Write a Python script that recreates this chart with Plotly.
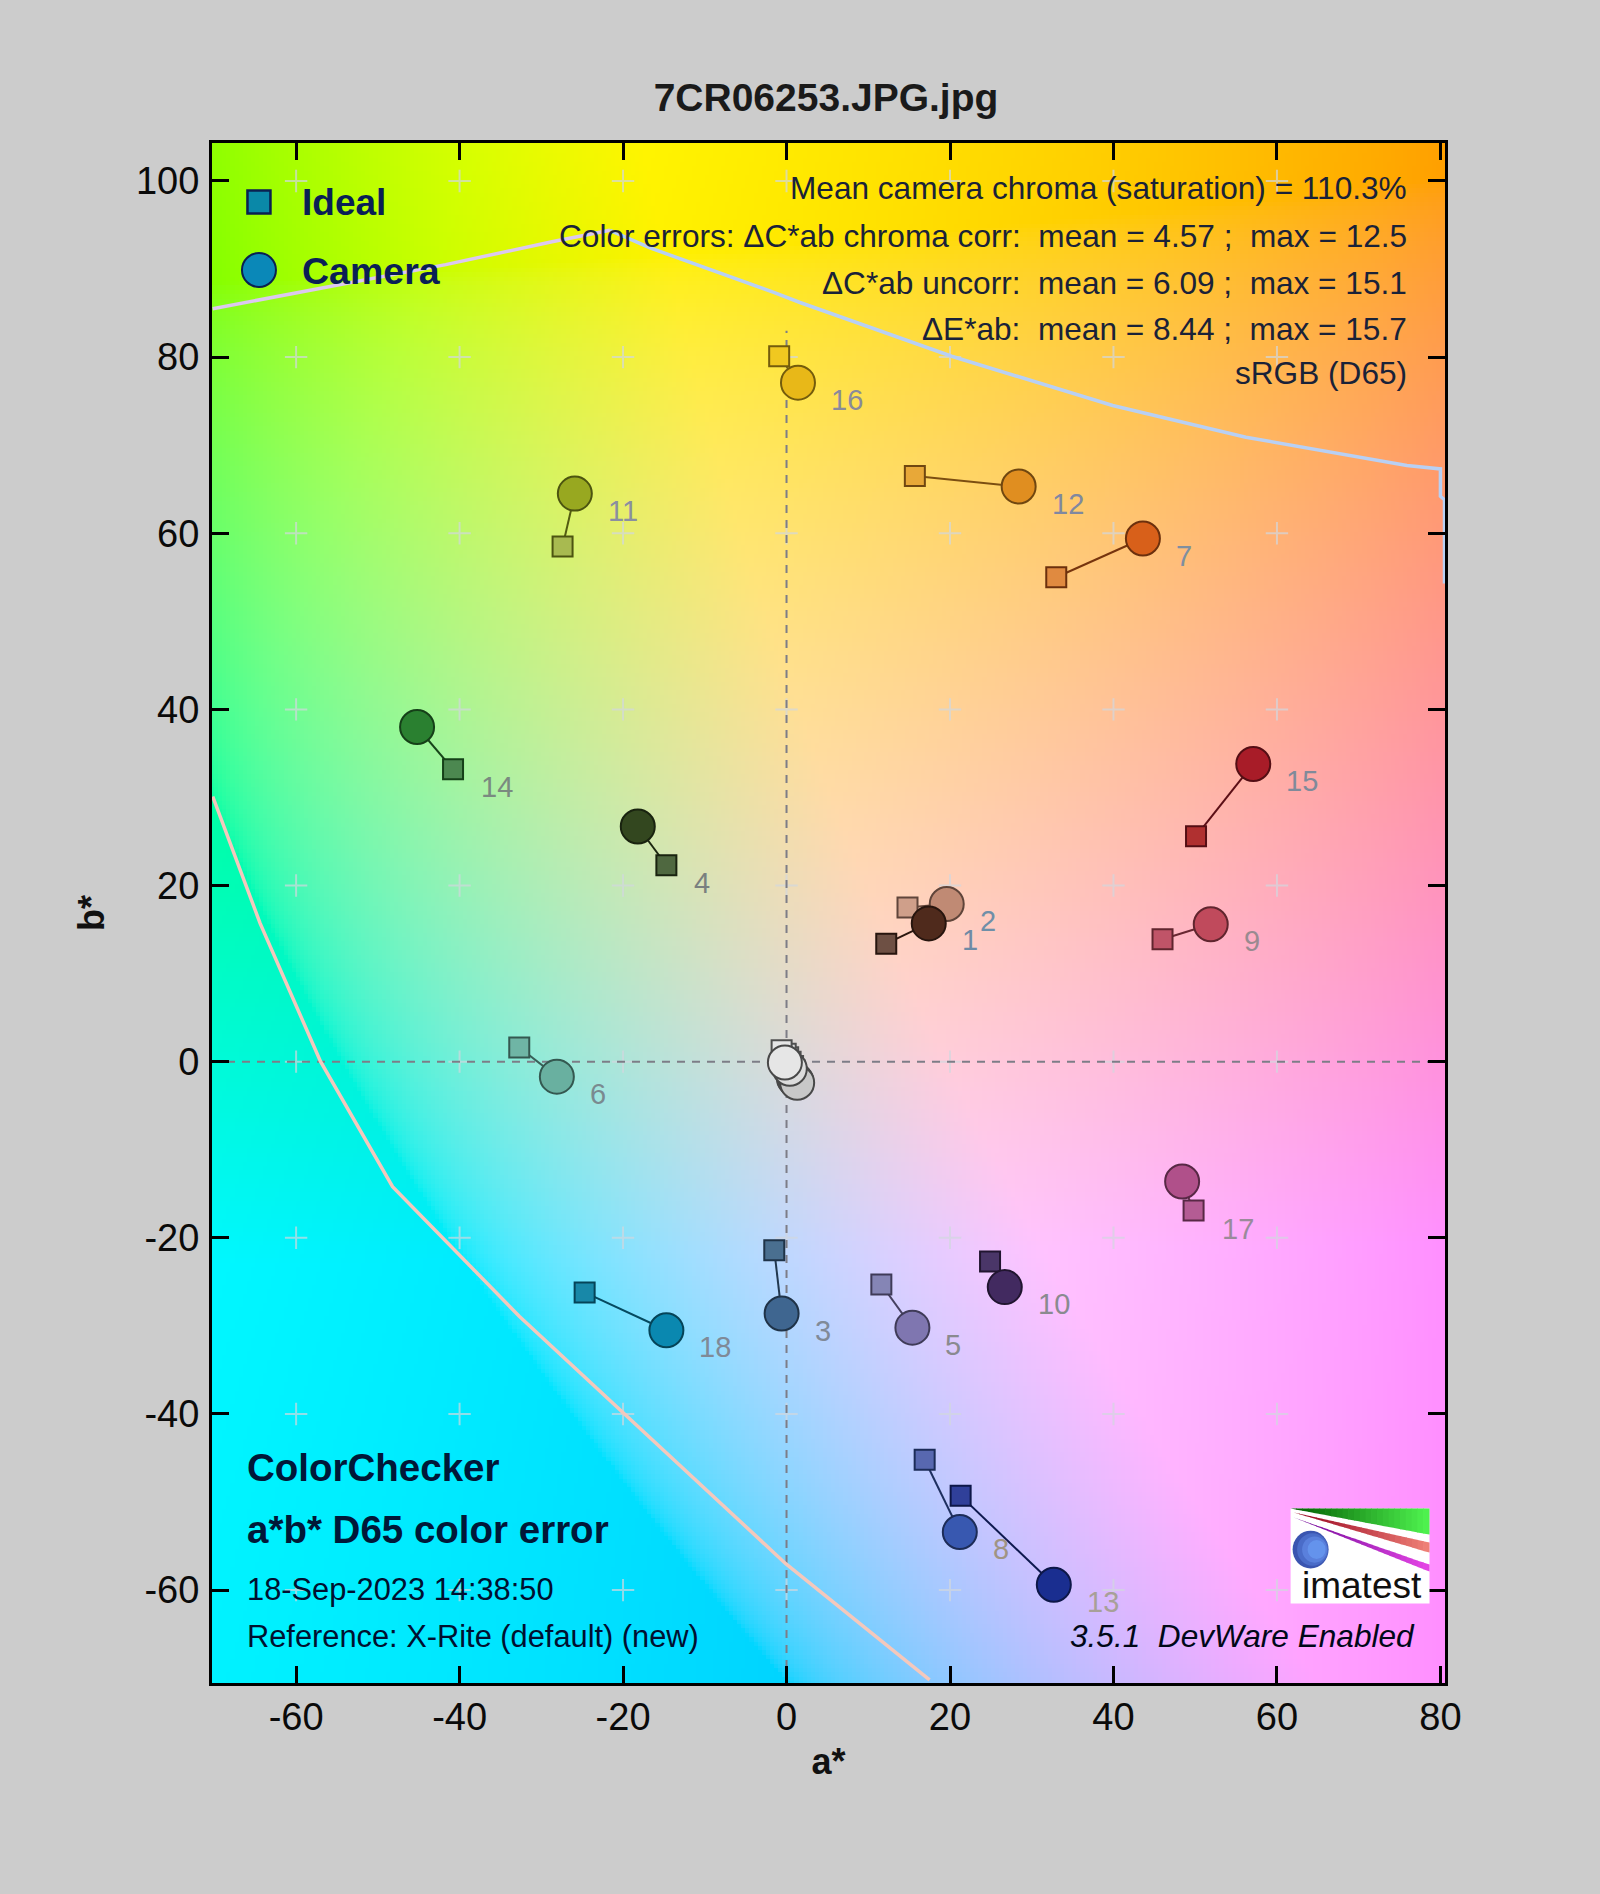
import numpy as np
import plotly.graph_objects as go

# ---------- data ----------
patch_ids = [str(i) for i in range(1, 19)]
ideal_a = [12.2, 14.8, -1.5, -14.7, 11.6, -32.7, 33.0, 16.9, 46.0, 24.9, -27.4, 15.7, 21.3, -40.8, 50.1, -0.9, 49.8, -24.7]
ideal_b = [13.4, 17.5, -21.4, 22.3, -25.3, 1.6, 55.0, -45.2, 13.9, -22.7, 58.5, 66.5, -49.3, 33.2, 25.6, 80.1, -16.9, -26.2]
camera_a = [17.4, 19.6, -0.6, -18.2, 15.4, -28.1, 43.6, 21.2, 51.9, 26.7, -25.9, 28.4, 32.7, -45.2, 57.1, 1.4, 48.4, -14.7]
camera_b = [15.7, 17.9, -28.6, 26.7, -30.2, -1.7, 59.4, -53.4, 15.6, -25.6, 64.5, 65.3, -59.4, 38.0, 33.8, 77.1, -13.6, -30.5]
camera_colors = ["#4f2a1c", "#c08a74", "#3f6690", "#33471f", "#7f76b0", "#69b0a0", "#d8601a", "#3858b0", "#c04a5c",
                 "#422a60", "#98a820", "#e08e20", "#1a2e90", "#2a8030", "#a81c28", "#e8b818", "#b0508a", "#0a88b0"]
ideal_colors = ["#6e5044", "#cf9f8a", "#4a6f90", "#4f6840", "#8585b5", "#6fb5a5", "#e08a40", "#5868b0", "#c05468",
                "#4a3668", "#a8ba50", "#e8a838", "#30409a", "#4c8850", "#b03030", "#f0c820", "#b45c94", "#1888a8"]
label_colors = ["#6f8aa5", "#6f8fa8", "#808a98", "#7a8080", "#8a8a90", "#7a8a90", "#7f8fa0", "#a09484", "#9a8a90",
                "#8a8a90", "#8a8fa0", "#8088a0", "#a8a098", "#7a8a80", "#808a9a", "#8a8a9a", "#9a8a9a", "#7f8a98"]

neutral_ideal_a = [1.0, 0.8, 0.5, 0.2, -0.1, -0.6]
neutral_ideal_b = [-1.0, -0.5, 0.0, 0.5, 0.9, 1.3]
neutral_camera_a = [0.9, 1.0, 1.2, 1.3, 0.4, -0.2]
neutral_camera_b = [-1.9, -2.0, -2.2, -2.4, -0.8, -0.1]
neutral_colors = ["#303030", "#606060", "#909090", "#c8c8c8", "#dcdcdc", "#e6e6e6"]

gamut_left_a = [-70.2, -41.7, -28.7, -21.6]
gamut_left_b = [85.5, 90.5, 93.1, 94.4]
gamut_right_a = [-21.6, -16.7, -1.4, 1.65, 20.2, 39.9, 56.2, 75.9, 80.0, 80.0, 80.5, 80.5]
gamut_right_b = [94.4, 92.4, 87.3, 86.2, 80.1, 74.5, 70.9, 67.7, 67.3, 64.2, 63.8, 54.3]
gamut_low_a = [-70.2, -64.4, -57.0, -48.2, -32.7, -20.1, -0.1, 17.5]
gamut_low_b = [30.1, 15.7, 0.0, -14.2, -28.9, -39.8, -57.0, -70.2]

x_ticks = [-60, -40, -20, 0, 20, 40, 60, 80]
y_ticks = [-60, -40, -20, 0, 20, 40, 60, 80, 100]
cross_a = [-60, -40, -20, 0, 20, 40, 60]

title_text = "7CR06253.JPG.jpg"
stat_lines = ["Mean camera chroma (saturation) = 110.3%",
              "Color errors: ΔC*ab chroma corr:  mean = 4.57 ;  max = 12.5",
              "ΔC*ab uncorr:  mean = 6.09 ;  max = 15.1",
              "ΔE*ab:  mean = 8.44 ;  max = 15.7",
              "sRGB (D65)"]

# ---------- frame geometry ----------
W, H = 1600, 1894
L, R, T, B = 211.5, 1445.5, 143, 1683.5
x_range = [-70.29, 80.56]
y_range = [-70.55, 104.31]
FONT = "Liberation Sans"


def px(x):
    return (x - L) / (R - L)


def py(y):
    return (B - y) / (B - T)


def xd(x):
    return x_range[0] + px(x) * (x_range[1] - x_range[0])


def yd(y):
    return y_range[0] + py(y) * (y_range[1] - y_range[0])


def darker(c, f=0.5):
    r, g, b = int(c[1:3], 16), int(c[3:5], 16), int(c[5:7], 16)
    return f"rgb({int(r*f)},{int(g*f)},{int(b*f)})"


# ---------- Lab colour-plane background ----------
def lab_plane(a_vals, b_vals):
    aa, bb = np.meshgrid(a_vals, b_vals)
    lightness = 87 + 0.07 * bb
    fy = (lightness + 16) / 116
    fx, fz = fy + aa / 500, fy - bb / 200
    finv = lambda t: np.where(t > 6 / 29, t ** 3, 3 * (6 / 29) ** 2 * (t - 4 / 29))
    X, Y, Z = 0.95047 * finv(fx), finv(fy), 1.08883 * finv(fz)
    r = 3.2406 * X - 1.5372 * Y - 0.4986 * Z
    g = -0.9689 * X + 1.8758 * Y + 0.0415 * Z
    bl = 0.0557 * X - 0.2040 * Y + 1.0570 * Z
    rgb = np.clip(np.stack([r, g, bl], axis=-1), 0, 1)
    rgb = np.where(rgb <= 0.0031308, 12.92 * rgb, 1.055 * rgb ** (1 / 2.4) - 0.055)
    return (rgb * 255).round().astype(int)


step = 0.5
a_grid = np.arange(x_range[0], x_range[1] + step, step)
b_grid = np.arange(y_range[0], y_range[1] + step, step)
plane = lab_plane(a_grid, b_grid)

fig = go.Figure()
fig.add_trace(go.Image(z=plane.tolist(), x0=float(a_grid[0]), dx=step, y0=float(b_grid[0]), dy=step,
                       hoverinfo="skip", colormodel="rgb"))

# grid crosses
ca, cb = [], []
for b_v in y_ticks:
    for a_v in cross_a:
        ca.append(a_v)
        cb.append(b_v)
fig.add_trace(go.Scatter(x=ca, y=cb, mode="markers", hoverinfo="skip",
                         marker=dict(symbol="cross-thin", size=16, line=dict(width=2, color="rgba(210,215,222,0.7)"))))

# dashed axes
DASH = "rgb(125,125,135)"
fig.add_trace(go.Scatter(x=[0, 0], y=[y_range[0], 83], mode="lines",
                         line=dict(color=DASH, width=2, dash="8px 7px"), hoverinfo="skip"))
fig.add_trace(go.Scatter(x=[x_range[0], x_range[1]], y=[0, 0], mode="lines",
                         line=dict(color=DASH, width=2, dash="8px 7px"), hoverinfo="skip"))

# gamut outline
fig.add_trace(go.Scatter(x=gamut_left_a, y=gamut_left_b, mode="lines", line=dict(color="#dcc8f0", width=3.5)))
fig.add_trace(go.Scatter(x=gamut_right_a, y=gamut_right_b, mode="lines", line=dict(color="#b8d0f4", width=3.5)))
fig.add_trace(go.Scatter(x=gamut_low_a, y=gamut_low_b, mode="lines", line=dict(color="#f4c8bc", width=3.5)))

# connectors
for i in range(18):
    fig.add_trace(go.Scatter(x=[ideal_a[i], camera_a[i]], y=[ideal_b[i], camera_b[i]], mode="lines",
                             line=dict(color=darker(camera_colors[i], 0.55), width=2), hoverinfo="skip"))

# neutrals
fig.add_trace(go.Scatter(x=neutral_ideal_a, y=neutral_ideal_b, mode="markers",
                         marker=dict(symbol="square", size=20, color=neutral_colors,
                                     line=dict(width=2, color="#505050"))))
fig.add_trace(go.Scatter(x=neutral_camera_a, y=neutral_camera_b, mode="markers",
                         marker=dict(symbol="circle", size=34, color=neutral_colors,
                                     line=dict(width=2, color="#484848"))))

# ideal squares and camera circles (patch 1 ends up on top)
fig.add_trace(go.Scatter(x=ideal_a[::-1], y=ideal_b[::-1], mode="markers", name="Ideal",
                         marker=dict(symbol="square", size=20, color=ideal_colors[::-1],
                                     line=dict(width=2, color=[darker(c) for c in camera_colors[::-1]]))))
fig.add_trace(go.Scatter(x=camera_a[::-1], y=camera_b[::-1], mode="markers", name="Camera",
                         marker=dict(symbol="circle", size=34, color=camera_colors[::-1],
                                     line=dict(width=2, color=[darker(c) for c in camera_colors[::-1]]))))

# legend marks
fig.add_trace(go.Scatter(x=[xd(258.5)], y=[yd(202)], mode="markers",
                         marker=dict(symbol="square", size=23, color="#0a88a8", line=dict(width=2.5, color="#0a2050"))))
fig.add_trace(go.Scatter(x=[xd(258.5)], y=[yd(270)], mode="markers",
                         marker=dict(symbol="circle", size=34, color="#0a88b8", line=dict(width=2, color="#0a2050"))))


def note(text, x, y, size, color="#101828", anchor="left", bold=False, italic=False):
    if bold:
        text = f"<b>{text}</b>"
    if italic:
        text = f"<i>{text}</i>"
    fig.add_annotation(text=text, x=px(x), y=py(y), xref="paper", yref="paper", xanchor=anchor, yanchor="middle",
                       showarrow=False, align=anchor, font=dict(family=FONT, size=size, color=color))


# patch numbers: placed beside whichever of the pair lies further right
for i, pid in enumerate(patch_ids):
    right_is_ideal = ideal_a[i] > camera_a[i]
    fig.add_annotation(text=pid, xref="x", yref="y", xanchor="left", yanchor="middle",
                       x=ideal_a[i] if right_is_ideal else camera_a[i],
                       y=ideal_b[i] if right_is_ideal else camera_b[i],
                       xshift=26 if right_is_ideal else 31, yshift=-18 if right_is_ideal else -17, showarrow=False,
                       font=dict(family=FONT, size=29, color=label_colors[i]))

note("Ideal", 300, 203, 37, "#0a1f55", bold=True)
note("Camera", 300, 271, 37.5, "#0a1f55", bold=True)

for line, y in zip(stat_lines, [188, 236, 283, 329, 373]):
    note(line, 1409, y, 31.6, "#1a2238", anchor="right")

note("ColorChecker", 244.5, 1468, 38.5, "#001838", bold=True)
note("a*b* D65 color error", 244.5, 1530, 38.5, "#001838", bold=True)
note("18-Sep-2023 14:38:50", 244.5, 1590, 30.8, "#001030")
note("Reference: X-Rite (default) (new)", 244.5, 1637, 30.8, "#001030")
note("3.5.1  DevWare Enabled", 1417, 1636, 31.6, "#000818", anchor="right", italic=True)

# ---------- logo ----------
logo_shapes = []


def poly(points, color):
    path = "M " + " L ".join(f"{xd(x):.3f},{yd(y):.3f}" for x, y in points) + " Z"
    logo_shapes.append(dict(type="path", path=path, xref="x", yref="y", fillcolor=color, line=dict(width=0), layer="above"))


def wedge(x0, y0, x1, y_top, y_bot, c0, c1, n=24):
    for k in range(n):
        t0, t1 = k / n, (k + 1) / n
        xa, xb = x0 + (x1 - x0) * t0, x0 + (x1 - x0) * t1
        col = tuple(int(c0[j] + (c1[j] - c0[j]) * (t0 + t1) / 2) for j in range(3))
        poly([(xa, y0 + (y_top - y0) * t0), (xb + 0.7, y0 + (y_top - y0) * t1),
              (xb + 0.7, y0 + (y_bot - y0) * t1), (xa, y0 + (y_bot - y0) * t0)], f"rgb{col}")


poly([(1291, 1509), (1430, 1509), (1430, 1604), (1291, 1604)], "white")
wedge(1291, 1509, 1429.3, 1509, 1535, (0, 90, 0), (80, 245, 80))
wedge(1294, 1513, 1429.3, 1543, 1553, (150, 0, 30), (240, 130, 120))
wedge(1294, 1518, 1429.3, 1565, 1572, (110, 10, 150), (230, 70, 230))
for k, (cx, rr, col) in enumerate([(1311, 18, "#3a55b0"), (1313, 15.5, "#4a6cc8"), (1315, 12.5, "#5a80dc"), (1317, 9, "#6493ec")]):
    logo_shapes.append(dict(type="circle", xref="x", yref="y", x0=xd(cx - rr), x1=xd(cx + rr),
                            y0=yd(1550 - rr * 1.05), y1=yd(1550 + rr * 1.05), fillcolor=col, line=dict(width=0)))
fig.add_annotation(text="imatest", x=px(1362), y=py(1586), xref="paper", yref="paper", xanchor="center", yanchor="middle",
                   showarrow=False, font=dict(family=FONT, size=37, color="#101010"))

# ---------- layout ----------
axis_common = dict(showgrid=False, zeroline=False, showline=True, linecolor="black", linewidth=3, mirror="allticks",
                   ticks="inside", ticklen=17, tickwidth=2.5, tickcolor="black",
                   tickfont=dict(family=FONT, size=38, color="#0a0a0a"))
fig.update_layout(
    width=W, height=H, autosize=False, showlegend=False,
    paper_bgcolor="#cccccc", plot_bgcolor="#cccccc",
    margin=dict(l=L, r=W - R, t=T, b=H - B, pad=0),
    title=dict(text=f"<b>{title_text}</b>", x=826 / W, xanchor="center", y=1 - 97 / H, yanchor="middle",
               font=dict(family=FONT, size=39, color="#1a1a1a")),
    xaxis=dict(range=x_range, tickvals=x_ticks, ticktext=[str(v) for v in x_ticks], constrain="range",
               ticklabelstandoff=-2,
               title=dict(text="<b>a*</b>", standoff=13, font=dict(family=FONT, size=36, color="#111111")), **axis_common),
    yaxis=dict(range=y_range, tickvals=y_ticks, ticktext=[str(v) for v in y_ticks], scaleanchor=False, autorange=False,
               constrain="range", ticklabelstandoff=2,
               title=dict(text="<b>b*</b>", standoff=21, font=dict(family=FONT, size=36, color="#111111")), **axis_common),
    shapes=logo_shapes,
)

fig.write_html("out.html", config={"displayModeBar": False},
               post_script="document.body.style.margin='0';document.body.style.overflow='hidden';")
